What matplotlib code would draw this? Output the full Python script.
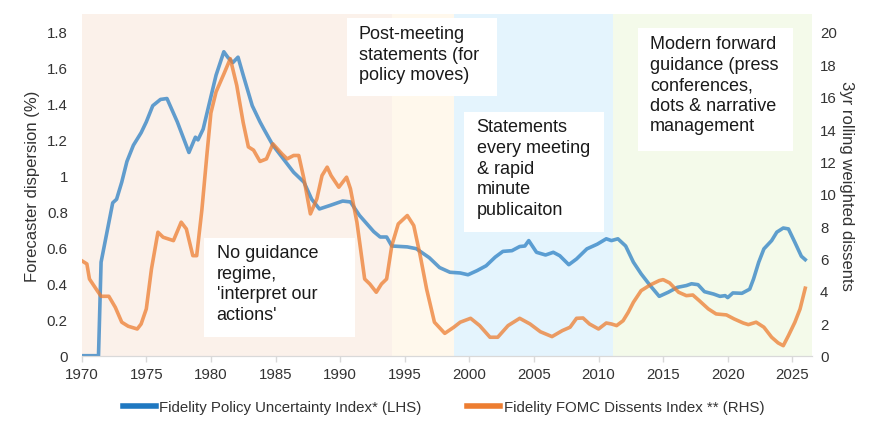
import matplotlib
matplotlib.use("Agg")
import matplotlib.pyplot as plt
from matplotlib.lines import Line2D
from matplotlib.patches import Rectangle

plt.rcParams['font.family'] = ['Liberation Sans', 'DejaVu Sans']

# Fidelity Policy Uncertainty Index (LHS, %)
unc_years = [1970.0, 1971.3, 1971.5, 1972.4, 1972.7, 1973.1, 1973.5, 1974.0, 1974.6, 1975.0,
             1975.5, 1976.1, 1976.6, 1977.4, 1978.3, 1978.8, 1979.0, 1979.4, 1979.9, 1980.4,
             1981.0, 1981.3, 1981.7, 1982.1, 1982.5, 1983.2, 1983.8, 1984.1, 1984.8, 1985.6,
             1986.4, 1987.2, 1987.8, 1988.4, 1989.2, 1990.2, 1990.8, 1991.5, 1992.6, 1993.1,
             1993.6, 1994.0, 1995.2, 1995.9, 1996.9, 1997.7, 1998.5, 1999.3, 1999.9, 2000.6,
             2001.3, 2002.0, 2002.6, 2003.3, 2003.9, 2004.3, 2004.6, 2005.2, 2005.9, 2006.5,
             2007.0, 2007.7, 2008.3, 2009.1, 2009.9, 2010.6, 2011.0, 2011.5, 2012.1, 2012.7,
             2013.3, 2014.0, 2014.7, 2015.4, 2016.1, 2016.8, 2017.2, 2017.7, 2018.2, 2018.9,
             2019.4, 2019.8, 2020.0, 2020.4, 2021.1, 2021.7, 2022.0, 2022.4, 2022.8, 2023.4,
             2023.8, 2024.3, 2024.7, 2025.2, 2025.7, 2026.0]
unc_values = [0.0, 0.0, 0.52, 0.85, 0.87, 0.965, 1.08, 1.17, 1.24, 1.30,
              1.39, 1.425, 1.43, 1.30, 1.13, 1.215, 1.20, 1.26, 1.41, 1.56,
              1.69, 1.66, 1.63, 1.66, 1.56, 1.39, 1.30, 1.26, 1.17, 1.095,
              1.02, 0.965, 0.87, 0.816, 0.835, 0.86, 0.855, 0.78, 0.69, 0.66,
              0.66, 0.61, 0.605, 0.595, 0.545, 0.49, 0.464, 0.46, 0.45, 0.473,
              0.50, 0.548, 0.58, 0.584, 0.607, 0.61, 0.64, 0.575, 0.56, 0.575,
              0.556, 0.506, 0.538, 0.594, 0.62, 0.65, 0.64, 0.65, 0.61, 0.52,
              0.455, 0.39, 0.33, 0.353, 0.38, 0.39, 0.40, 0.395, 0.356, 0.343,
              0.33, 0.334, 0.323, 0.349, 0.347, 0.37, 0.427, 0.52, 0.594, 0.64,
              0.687, 0.71, 0.705, 0.63, 0.553, 0.534]

# Fidelity FOMC Dissents Index (RHS, 3yr rolling weighted dissents)
dis_years = [1970.0, 1970.4, 1970.6, 1971.2, 1971.5, 1972.1, 1972.6, 1973.1, 1973.6, 1974.3,
             1974.6, 1975.0, 1975.4, 1975.9, 1976.3, 1977.1, 1977.7, 1978.1, 1978.6, 1978.9,
             1979.3, 1979.7, 1980.0, 1980.4, 1981.0, 1981.5, 1982.0, 1982.5, 1982.9,
             1983.3, 1983.8, 1984.3, 1984.8, 1985.5, 1985.9, 1986.4, 1986.8, 1987.2, 1987.7,
             1988.2, 1988.6, 1989.0, 1989.3, 1989.9, 1990.5, 1990.8, 1991.3, 1991.9, 1992.3,
             1992.8, 1993.2, 1993.6, 1994.0, 1994.5, 1995.2, 1995.7, 1996.2, 1996.7, 1997.3,
             1998.1, 1998.8, 1999.3, 2000.1, 2000.8, 2001.6, 2002.2, 2003.0, 2003.9, 2004.7,
             2005.5, 2006.4, 2007.2, 2007.8, 2008.3, 2008.8, 2009.3, 2010.0, 2010.6, 2011.0,
             2011.4, 2011.9, 2012.3, 2012.7, 2013.3, 2014.0, 2014.7, 2015.0, 2015.5, 2016.2,
             2016.8, 2017.3, 2017.8, 2018.5, 2019.1, 2019.9, 2020.5, 2021.2, 2021.6, 2022.2,
             2022.8, 2023.4, 2023.9, 2024.3, 2024.7, 2025.2, 2025.6, 2026.0]
dis_values = [5.87, 5.67, 4.74, 4.02, 3.67, 3.67, 2.99, 2.07, 1.82, 1.65,
              1.96, 2.89, 5.36, 7.63, 7.32, 7.11, 8.25, 7.83, 6.18, 6.18,
              9.0, 12.5, 15.0, 16.3, 17.4, 18.35, 16.7, 14.4, 12.9,
              12.7, 12.0, 12.16, 13.09, 12.47, 12.16, 12.37, 12.37, 10.93, 8.76,
              9.69, 11.13, 11.65, 11.13, 10.41, 11.03, 10.31, 8.25, 4.74, 4.43,
              3.92, 4.43, 4.74, 6.80, 8.14, 8.66, 8.04, 6.18, 4.1, 2.07,
              1.38, 1.76, 2.07, 2.31, 1.86, 1.14, 1.14, 1.86, 2.31, 1.96,
              1.48, 1.18, 1.55, 1.76, 2.31, 2.33, 1.96, 1.65, 2.02, 1.96,
              1.86, 2.16, 2.68, 3.30, 4.02, 4.37, 4.64, 4.70, 4.50, 3.92,
              3.71, 3.75, 3.40, 2.89, 2.58, 2.52, 2.27, 2.02, 1.92, 2.07,
              1.76, 1.14, 0.79, 0.62, 1.24, 2.07, 2.89, 4.17]

# Regimes
regime_starts = [1970.0, 1994.0, 1998.8, 2011.1]
regime_ends = [1994.0, 1998.8, 2011.1, 2026.5]
regime_colors = ['#fbf1ea', '#fff8ec', '#e4f4fd', '#f4faea']

x_ticks = [1970, 1975, 1980, 1985, 1990, 1995, 2000, 2005, 2010, 2015, 2020, 2025]
left_ticks = [0, 0.2, 0.4, 0.6, 0.8, 1.0, 1.2, 1.4, 1.6, 1.8]
left_tick_labels = ['0', '0.2', '0.4', '0.6', '0.8', '1', '1.2', '1.4', '1.6', '1.8']
right_ticks = [0, 2, 4, 6, 8, 10, 12, 14, 16, 18, 20]

W, H = 887, 427
fig = plt.figure(figsize=(W / 100, H / 100), dpi=100)
L, R, B, T = 81.7, 811.7, 356.7, 15.0
ax = fig.add_axes([L / W, 1 - B / H, (R - L) / W, (B - T) / H])
ax2 = ax.twinx()

ax.set_xlim(1970, 2026.5)
ax.set_ylim(0, 1.9)
ax2.set_ylim(0, 20 * 1.9 / 1.8)

for s, e, c in zip(regime_starts, regime_ends, regime_colors):
    ax.axvspan(s, e, color=c, lw=0, zorder=0)

blue = '#1f78c1'
orange = '#ed7d31'
ax.plot(unc_years, unc_values, color=blue, lw=2.6, alpha=0.7, zorder=3,
        solid_joinstyle='round')
ax2.plot(dis_years, dis_values, color=orange, lw=2.6, alpha=0.75, zorder=3,
         solid_joinstyle='round')

ax.set_xticks(x_ticks)
ax.set_yticks(left_ticks)
ax.set_yticklabels(left_tick_labels)
ax2.set_yticks(right_ticks)
for a in (ax, ax2):
    for sp in ('top', 'left', 'right'):
        a.spines[sp].set_visible(False)
    a.spines['bottom'].set_color('#d9d9d9')
ax.tick_params(axis='x', colors='#d9d9d9', length=4, width=1, labelcolor='#333333',
               labelsize=10.8, pad=4)
ax.tick_params(axis='y', length=0, labelcolor='#333333', labelsize=10.8, pad=10)
ax2.tick_params(axis='y', length=0, labelcolor='#333333', labelsize=10.8, pad=6)
ax.set_ylabel('Forecaster dispersion (%)', fontsize=12, color='#333333', labelpad=5)
ax2.set_ylabel('3yr rolling weighted dissents', fontsize=12, color='#333333',
               rotation=270, labelpad=12)

# Annotation boxes (pixel geometry)
boxes = [
    ((204, 239, 355, 338), (216.7, 245), "No guidance\nregime,\n'interpret our\nactions'"),
    ((346.7, 19.3, 496.7, 97.3), (359, 26), "Post-meeting\nstatements (for\npolicy moves)"),
    ((464.3, 112.7, 604, 233.3), (476.7, 119.5), "Statements\nevery meeting\n& rapid\nminute\npublicaiton"),
    ((638.3, 29.3, 793.3, 151.7), (650, 36), "Modern forward\nguidance (press\nconferences,\ndots & narrative\nmanagement"),
]
for (x0, y0, x1, y1), (tx, ty), txt in boxes:
    fig.patches.append(Rectangle((x0 / W, 1 - y1 / H), (x1 - x0) / W, (y1 - y0) / H,
                                 transform=fig.transFigure, facecolor='white',
                                 edgecolor='none', zorder=5))
    fig.text(tx / W, 1 - ty / H, txt, ha='left', va='top', fontsize=13,
             color='#1a1a1a', linespacing=1.27, zorder=6)

handles = [Line2D([], [], color=blue, lw=4),
           Line2D([], [], color=orange, lw=4)]
fig.legend(handles, ['Fidelity Policy Uncertainty Index* (LHS)',
                     'Fidelity FOMC Dissents Index ** (RHS)'],
           loc='center', bbox_to_anchor=(0.5, 1 - 408 / H), ncol=2, frameon=False,
           fontsize=10.8, handlelength=2.2, handletextpad=0.25, columnspacing=3.0,
           labelcolor='#333333')

fig.savefig('out.png', dpi=100)
